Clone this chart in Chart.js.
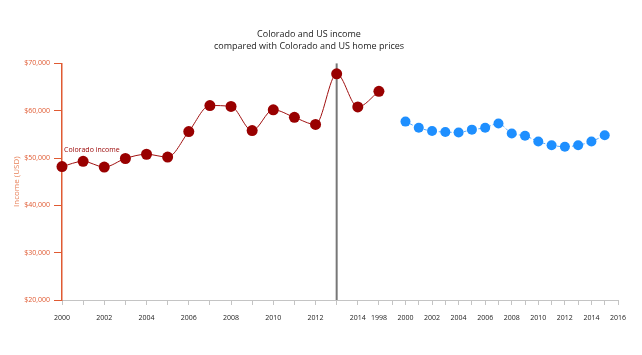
<!DOCTYPE html>
<html>
<head>
<meta charset="utf-8">
<script src="https://cdn.jsdelivr.net/npm/chart.js@4.4.1/dist/chart.umd.min.js"></script>
<style>
  html, body { margin: 0; padding: 0; background: #fff; }
  #wrap { width: 642px; height: 355px; }
</style>
</head>
<body>
<div id="wrap"><canvas id="c" width="642" height="355"></canvas></div>
<script>
// ---- data ----
const titleLines = ['Colorado and US income', 'compared with Colorado and US home prices'];
const years = [2000, 2001, 2002, 2003, 2004, 2005, 2006, 2007, 2008, 2009, 2010, 2011, 2012, 2013, 2014, 2015];
const coloradoIncome = [48200, 49300, 48100, 49900, 50800, 50200, 55600, 61100, 60900, 55800, 60200, 58600, 57100, 67800, 60800, 64100];
const usSeries = [57700, 56400, 55700, 55500, 55400, 56000, 56400, 57300, 55200, 54700, 53500, 52700, 52400, 52700, 53500, 54800];
const leftAxisRange = [2000, 2015];
const rightAxisRange = [1998, 2016];
const yRange = [20000, 70000];
const yStep = 10000;
const markerYear = 2013;
const seriesLabel = 'Colorado income';
const yAxisTitle = 'Income (USD)';

const SPLIT = 0.57;
const ORANGE = '#e05a32';
const FONT = "'Open Sans', 'DejaVu Sans', sans-serif";

const splitPlugin = {
  id: 'splitAxes',
  afterLayout(chart) {
    const x1 = chart.scales.x1, x2 = chart.scales.x2;
    const a = chart.chartArea;
    const s = a.left + (a.right - a.left) * SPLIT;
    x1.left = a.left; x1.right = s; x1.width = s - a.left;
    x2.left = s; x2.right = a.right; x2.width = a.right - s;
    x2.top = x1.top; x2.bottom = x1.bottom; x2.height = x1.height;
    x1.configure(); x2.configure();
  },
  beforeDatasetsDraw(chart) {
    const ctx = chart.ctx, a = chart.chartArea;
    const x = chart.scales.x1.getPixelForValue(markerYear);
    ctx.save();
    ctx.strokeStyle = '#777';
    ctx.lineWidth = 2;
    ctx.beginPath();
    ctx.moveTo(x, a.top);
    ctx.lineTo(x, a.bottom);
    ctx.stroke();
    ctx.restore();
  },
  afterDatasetsDraw(chart) {
    const ctx = chart.ctx;
    const p = chart.getDatasetMeta(0).data[0];
    ctx.save();
    ctx.fillStyle = '#990000';
    ctx.font = '7px ' + FONT;
    ctx.textAlign = 'left';
    ctx.textBaseline = 'middle';
    ctx.fillText(seriesLabel, p.x + 2, p.y - 17);
    ctx.restore();
  }
};

const evenLabel = v => (Math.round(v) % 2 === 0 ? String(Math.round(v)) : '');

const xAxisBase = (range) => ({
  type: 'linear',
  position: 'bottom',
  min: range[0],
  max: range[1],
  grid: { drawOnChartArea: false, drawTicks: true, tickLength: 5, color: '#c4c4c4' },
  border: { color: '#c4c4c4', width: 1 },
  ticks: {
    stepSize: 1, autoSkip: false, maxRotation: 0, minRotation: 0,
    color: '#222', font: { size: 7, family: FONT }, padding: 9,
    callback: evenLabel
  }
});

const x1Opts = xAxisBase(leftAxisRange);
x1Opts.afterFit = s => { s.height = 55; };
const x2Opts = xAxisBase(rightAxisRange);
x2Opts.afterFit = s => { s.height = 0; };

new Chart(document.getElementById('c'), {
  type: 'line',
  data: {
    datasets: [
      {
        label: seriesLabel,
        data: years.map((y, i) => ({ x: y, y: coloradoIncome[i] })),
        xAxisID: 'x1', yAxisID: 'y',
        borderColor: '#a01010', borderWidth: 1,
        pointBackgroundColor: '#990000', pointBorderColor: '#990000',
        pointRadius: 5.5, pointBorderWidth: 0,
        cubicInterpolationMode: 'monotone',
        clip: false
      },
      {
        label: 'US',
        data: years.map((y, i) => ({ x: y, y: usSeries[i] })),
        xAxisID: 'x2', yAxisID: 'y',
        borderColor: '#55aaff', borderWidth: 1, borderDash: [3, 2],
        pointBackgroundColor: '#1e8fff', pointBorderColor: '#1e8fff',
        pointRadius: 5, pointBorderWidth: 0,
        cubicInterpolationMode: 'monotone',
        clip: false
      }
    ]
  },
  options: {
    responsive: false,
    animation: false,
    devicePixelRatio: 1,
    layout: { padding: { left: 0, right: 24, top: 0, bottom: 0 } },
    plugins: {
      legend: { display: false },
      tooltip: { enabled: false },
      title: {
        display: true,
        text: titleLines,
        color: '#222',
        font: { size: 9, family: FONT, weight: 'normal', lineHeight: 1.3 },
        padding: { top: 29, bottom: 11 }
      }
    },
    scales: {
      x1: x1Opts,
      x2: x2Opts,
      y: {
        type: 'linear',
        position: 'left',
        min: yRange[0], max: yRange[1],
        afterFit: s => { s.width = 62; },
        grid: { drawOnChartArea: false, drawTicks: true, tickLength: 8, color: ORANGE },
        border: { color: ORANGE, width: 1.5 },
        ticks: {
          stepSize: yStep, color: ORANGE, padding: 4,
          font: { size: 7, family: FONT },
          callback: v => '$' + Number(v).toLocaleString('en-US')
        },
        title: {
          display: true, text: yAxisTitle, color: '#e8825a',
          font: { size: 8, family: FONT }, padding: { top: 12, bottom: 0 }
        }
      }
    }
  },
  plugins: [splitPlugin]
});
</script>
</body>
</html>
